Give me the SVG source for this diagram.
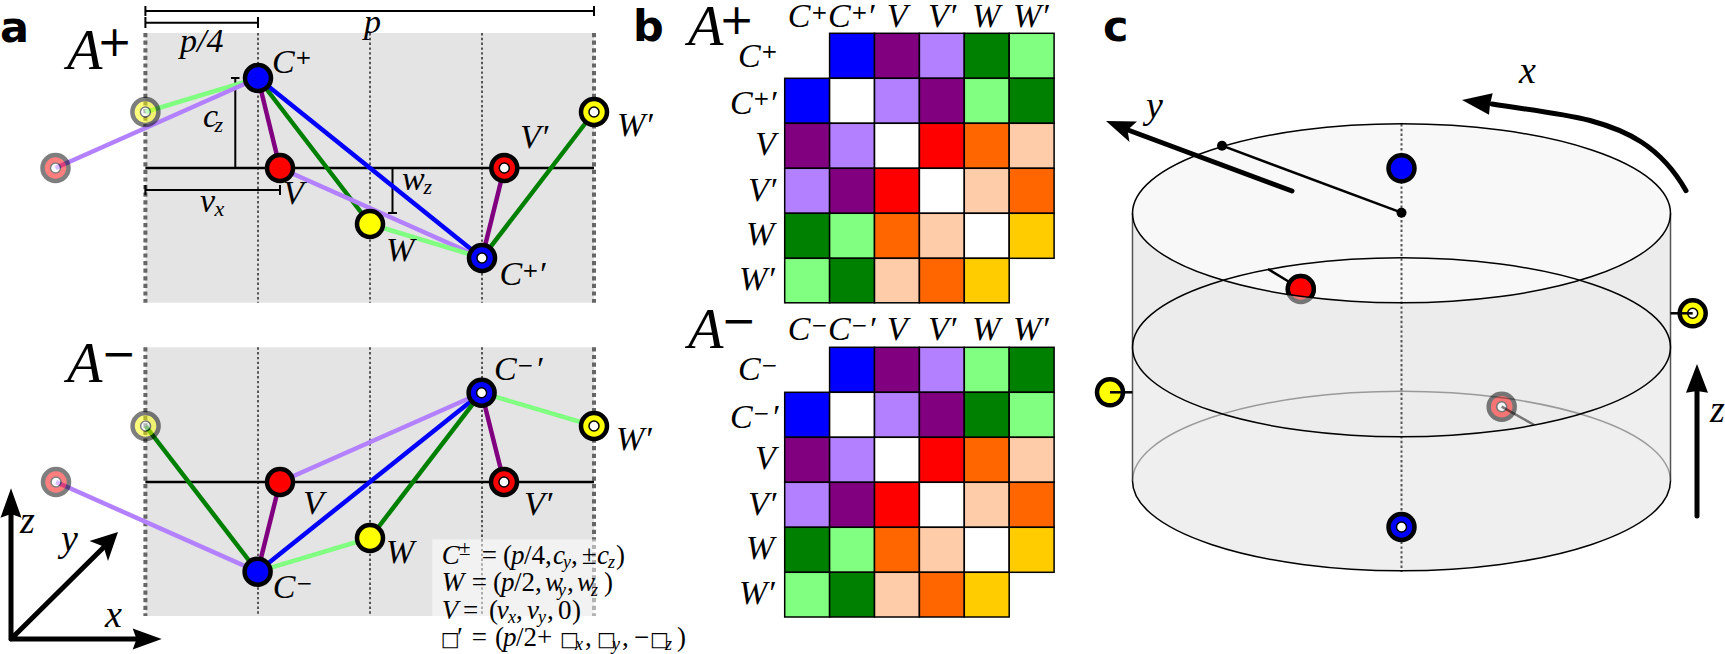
<svg xmlns="http://www.w3.org/2000/svg" width="1725" height="654" viewBox="0 0 1725 654">
<style>
text{font-family:"Liberation Serif","DejaVu Serif",serif;fill:#000}
.m{font-style:italic;font-size:34px}
.s{font-family:"DejaVu Sans",sans-serif;font-style:normal;font-size:20px}
.b{font-style:italic;font-size:22px}
.big{font-style:italic;font-size:58px}
.bs{font-family:"DejaVu Sans",sans-serif;font-style:normal;font-size:42px}
.ax{font-style:italic;font-size:38px}
.l{font-size:27px}
.li{font-style:italic}
.lsub{font-style:italic;font-size:18px}
.lsup{font-size:21px}
.sq{font-family:"DejaVu Sans",sans-serif;font-size:20px}
.lbl{font-family:"DejaVu Sans",sans-serif;font-weight:bold;font-size:43px}
.panel{fill:#e4e4e4}
.edge{stroke:#666;stroke-width:4;stroke-dasharray:4.2 3.4;fill:none}
.div{stroke:#555;stroke-width:2;stroke-dasharray:2.4 2.4;fill:none}
.axis{stroke:#000;stroke-width:2.5;fill:none}
.bar{stroke:#000;stroke-width:2;fill:none}
.arrow{stroke:#000;stroke-width:5;fill:none;stroke-linecap:round}
.k{stroke-width:4.5;fill:none}
.bl{stroke:#00f}.pu{stroke:#800080}.la{stroke:#b380ff}.dg{stroke:#008000}.lg{stroke:#80ff80}
circle.n{stroke:#000;stroke-width:4.5}
circle.h{fill:#fff;stroke:#000;stroke-width:1.5}
.ghost{opacity:.5}
.fb{fill:#00f}.fr{fill:#f00}.fy{fill:#ff0}
.cP{fill:#800080}.cL{fill:#b380ff}.cD{fill:#008000}.cG{fill:#80ff80}.cB{fill:#00f}.cR{fill:#f00}.cO{fill:#f60}.cE{fill:#fca}.cY{fill:#fc0}.cW{fill:#fff}
.grid rect{stroke:#000;stroke-width:1.5}
.cyl{stroke:#000;stroke-width:1.5;fill:none}
.wall{stroke:#555;stroke-width:1.5;fill:none}
.stub{stroke:#000;stroke-width:2.5;fill:none}
</style>
<defs>
<clipPath id="topface"><ellipse cx="1401.5" cy="213.3" rx="269" ry="89.5"/></clipPath>
</defs>

<text class="lbl" x="0" y="42">a</text>
<text class="lbl" x="633" y="41">b</text>
<text class="lbl" x="1103" y="41">c</text>

<g id="panel-a-plus">
<rect class="panel" x="145.4" y="33" width="448.6" height="269.7"/>
<path class="div" d="M258 33V302.7M370 33V302.7M482 33V302.7"/>
<path class="edge" d="M145.4 33V302.7M594 33V302.7"/>
<path class="axis" d="M145.4 168H594"/>
</g>
<g id="panel-a-minus">
<rect class="panel" x="145.4" y="347.3" width="448.6" height="268.7"/>
<path class="div" d="M258 347.3V616M370 347.3V616M482 347.3V616"/>
<path class="edge" d="M145.4 347.3V616M594 347.3V616"/>
<path class="axis" d="M145.4 482H594"/>
</g>

<g id="dimensions">
<path class="bar" d="M145.4 11H594M145.4 6V16M594 6V16"/>
<path class="bar" d="M145.4 22.7H258M145.4 17V28M258 17V28"/>
<path class="bar" d="M235.3 78V168M231 78H239.5"/>
<path class="bar" d="M392.5 168V213M388 213H397"/>
<path class="bar" d="M145.4 190H280M145.4 185V195M280 185V195"/>
<text class="m" x="364" y="33">p</text>
<text class="m" x="180" y="52">p/4</text>
<text class="m" x="203" y="127">c<tspan class="b" x="214.6" y="132">z</tspan></text>
<text class="m" x="402" y="190">w<tspan class="b" x="423.6" y="194">z</tspan></text>
<text class="m" x="200" y="212">v<tspan class="b" x="214.6" y="216">x</tspan></text>
</g>

<text class="big" x="67" y="69">A<tspan class="bs" x="97" y="56">+</tspan></text>
<text class="big" x="67" y="382">A<tspan class="bs" x="101" y="368">−</tspan></text>

<g id="connectors-a-plus">
<path class="k lg" d="M145.4 112L258 78"/>
<path class="k la" d="M55.5 168L258 78"/>
<path class="k pu" d="M258 78L280 168"/>
<path class="k dg" d="M258 78L370 224"/>
<path class="k bl" d="M258 78L482 258"/>
<path class="k la" d="M280 168L482 258"/>
<path class="k lg" d="M370 224L482 258"/>
<path class="k pu" d="M482 258L504.3 168"/>
<path class="k dg" d="M482 258L594 112"/>
</g>
<g id="connectors-a-minus">
<path class="k la" d="M56 482L257.6 571.7"/>
<path class="k dg" d="M145.6 426L257.6 571.7"/>
<path class="k pu" d="M257.6 571.7L280 482"/>
<path class="k bl" d="M257.6 571.7L481.6 392.7"/>
<path class="k lg" d="M257.6 571.7L370 538"/>
<path class="k dg" d="M370 538L481.6 392.7"/>
<path class="k la" d="M280 482L481.6 392.7"/>
<path class="k lg" d="M481.6 392.7L594 426"/>
<path class="k pu" d="M481.6 392.7L504 482"/>
</g>

<g id="ap-ghost-W" class="ghost"><circle class="n fy" cx="145.4" cy="112" r="13"/><circle class="h" cx="145.4" cy="112" r="5"/></g>
<g id="ap-ghost-V" class="ghost"><circle class="n fr" cx="55.5" cy="168" r="13"/><circle class="h" cx="55.5" cy="168" r="5"/></g>
<g id="ap-C"><circle class="n fb" cx="258" cy="78" r="13"/><text class="m" x="272" y="73">C<tspan class="s" x="295" y="64">+</tspan></text></g>
<g id="ap-V"><circle class="n fr" cx="280" cy="168" r="13"/><text class="m" x="283" y="204">V</text></g>
<g id="ap-Vp"><circle class="n fr" cx="504.3" cy="168" r="13"/><circle class="h" cx="504.3" cy="168" r="5"/><text class="m" x="520" y="148">V′</text></g>
<g id="ap-W"><circle class="n fy" cx="370" cy="224" r="13"/><text class="m" x="386" y="261">W</text></g>
<g id="ap-Cp"><circle class="n fb" cx="482" cy="258" r="13"/><circle class="h" cx="482" cy="258" r="5"/><text class="m" x="499.5" y="285">C<tspan class="s" x="522" y="277">+</tspan><tspan x="538" y="285">′</tspan></text></g>
<g id="ap-Wp"><circle class="n fy" cx="594" cy="112" r="13"/><circle class="h" cx="594" cy="112" r="5"/><text class="m" x="617" y="136">W′</text></g>

<g id="am-ghost-W" class="ghost"><circle class="n fy" cx="145.6" cy="426" r="13"/><circle class="h" cx="145.6" cy="426" r="5"/></g>
<g id="am-ghost-V" class="ghost"><circle class="n fr" cx="56" cy="482" r="13"/><circle class="h" cx="56" cy="482" r="5"/></g>
<g id="am-C"><circle class="n fb" cx="257.6" cy="571.7" r="13"/><text class="m" x="272.7" y="598">C<tspan class="s" x="296" y="590">−</tspan></text></g>
<g id="am-V"><circle class="n fr" cx="280" cy="482" r="13"/><text class="m" x="303" y="514">V</text></g>
<g id="am-Vp"><circle class="n fr" cx="504" cy="482" r="13"/><circle class="h" cx="504" cy="482" r="5"/><text class="m" x="524" y="515">V′</text></g>
<g id="am-W"><circle class="n fy" cx="370" cy="538" r="13"/><text class="m" x="386" y="563">W</text></g>
<g id="am-Cp"><circle class="n fb" cx="481.6" cy="392.7" r="13"/><circle class="h" cx="481.6" cy="392.7" r="5"/><text class="m" x="494" y="380">C<tspan class="s" x="517" y="372">−</tspan><tspan x="535" y="380">′</tspan></text></g>
<g id="am-Wp"><circle class="n fy" cx="594" cy="426" r="13"/><circle class="h" cx="594" cy="426" r="5"/><text class="m" x="616" y="450">W′</text></g>

<g id="axes-a">
<path class="arrow" d="M11 639V510M11 639L105 546M11 639H140"/>
<polygon points="11,488.3 21.5,517.7 11,514 0.5,517.7"/>
<polygon points="118,532 108,561 103.500,546.500 89.500,541"/>
<polygon points="161.700,639 132.700,628.500 136.500,639 132.700,649.500"/>
<text class="ax" x="20" y="533">z</text>
<text class="ax" x="61" y="551">y</text>
<text class="ax" x="105" y="627">x</text>
</g>

<g id="legend">
<rect x="432.300" y="539.300" width="163.700" height="77.700" fill="#fff" fill-opacity=".5"/>
<text class="l"><tspan class="li" x="441.700" y="563.500">C</tspan><tspan class="lsup" x="459" y="555">±</tspan><tspan x="481.700" y="563.500">=</tspan><tspan x="503">(</tspan><tspan class="li" x="511">p</tspan><tspan x="524">/4,</tspan><tspan class="li" x="553">c</tspan><tspan class="lsub" x="563" y="568">y</tspan><tspan x="571" y="563.500">,</tspan><tspan x="581.700">±</tspan><tspan class="li" x="597">c</tspan><tspan class="lsub" x="608" y="568">z</tspan><tspan x="616" y="563.500">)</tspan></text>
<text class="l"><tspan class="li" x="441.700" y="591">W</tspan><tspan x="471.700">=</tspan><tspan x="493">(</tspan><tspan class="li" x="501">p</tspan><tspan x="514">/2,</tspan><tspan class="li" x="545">w</tspan><tspan class="lsub" x="558" y="595.500">y</tspan><tspan x="567" y="591">,</tspan><tspan class="li" x="577">w</tspan><tspan class="lsub" x="591" y="595.500">z</tspan><tspan x="604" y="591">)</tspan></text>
<text class="l"><tspan class="li" x="441.700" y="618.500">V</tspan><tspan x="463">=</tspan><tspan x="489">(</tspan><tspan class="li" x="496.700">v</tspan><tspan class="lsub" x="508" y="623">x</tspan><tspan x="516" y="618.500">,</tspan><tspan class="li" x="527">v</tspan><tspan class="lsub" x="538" y="623">y</tspan><tspan x="547" y="618.500">,</tspan><tspan x="558">0</tspan><tspan x="572">)</tspan></text>
<text class="l"><tspan class="sq" x="440.700" y="645.500">□</tspan><tspan x="457">′</tspan><tspan x="471.700">=</tspan><tspan x="495">(</tspan><tspan class="li" x="503">p</tspan><tspan x="516">/2</tspan><tspan x="537">+</tspan><tspan class="sq" x="560">□</tspan><tspan class="lsub" x="575" y="650">x</tspan><tspan x="585" y="645.500">,</tspan><tspan class="sq" x="597">□</tspan><tspan class="lsub" x="612" y="650">y</tspan><tspan x="622" y="645.500">,</tspan><tspan x="634">−</tspan><tspan class="sq" x="650">□</tspan><tspan class="lsub" x="665" y="650">z</tspan><tspan x="677" y="645.500">)</tspan></text>
</g>

<g id="matrix-plus" class="grid">
<rect class="cB" x="829.600" y="33.300" width="44.900" height="45"/><rect class="cP" x="874.500" y="33.300" width="44.900" height="45"/><rect class="cL" x="919.400" y="33.300" width="44.900" height="45"/><rect class="cD" x="964.300" y="33.300" width="44.900" height="45"/><rect class="cG" x="1009.200" y="33.300" width="44.900" height="45"/>
<rect class="cB" x="784.700" y="78.300" width="44.900" height="45"/><rect class="cW" x="829.600" y="78.300" width="44.900" height="45"/><rect class="cL" x="874.500" y="78.300" width="44.900" height="45"/><rect class="cP" x="919.400" y="78.300" width="44.900" height="45"/><rect class="cG" x="964.300" y="78.300" width="44.900" height="45"/><rect class="cD" x="1009.200" y="78.300" width="44.900" height="45"/>
<rect class="cP" x="784.700" y="123.300" width="44.900" height="45"/><rect class="cL" x="829.600" y="123.300" width="44.900" height="45"/><rect class="cW" x="874.500" y="123.300" width="44.900" height="45"/><rect class="cR" x="919.400" y="123.300" width="44.900" height="45"/><rect class="cO" x="964.300" y="123.300" width="44.900" height="45"/><rect class="cE" x="1009.200" y="123.300" width="44.900" height="45"/>
<rect class="cL" x="784.700" y="168.300" width="44.900" height="45"/><rect class="cP" x="829.600" y="168.300" width="44.900" height="45"/><rect class="cR" x="874.500" y="168.300" width="44.900" height="45"/><rect class="cW" x="919.400" y="168.300" width="44.900" height="45"/><rect class="cE" x="964.300" y="168.300" width="44.900" height="45"/><rect class="cO" x="1009.200" y="168.300" width="44.900" height="45"/>
<rect class="cD" x="784.700" y="213.300" width="44.900" height="45"/><rect class="cG" x="829.600" y="213.300" width="44.900" height="45"/><rect class="cO" x="874.500" y="213.300" width="44.900" height="45"/><rect class="cE" x="919.400" y="213.300" width="44.900" height="45"/><rect class="cW" x="964.300" y="213.300" width="44.900" height="45"/><rect class="cY" x="1009.200" y="213.300" width="44.900" height="45"/>
<rect class="cG" x="784.700" y="258.300" width="44.900" height="44.500"/><rect class="cD" x="829.600" y="258.300" width="44.900" height="44.500"/><rect class="cE" x="874.500" y="258.300" width="44.900" height="44.500"/><rect class="cO" x="919.400" y="258.300" width="44.900" height="44.500"/><rect class="cY" x="964.300" y="258.300" width="44.900" height="44.500"/>
</g>
<g id="matrix-minus" class="grid">
<rect class="cB" x="829.600" y="347.300" width="44.900" height="45"/><rect class="cP" x="874.500" y="347.300" width="44.900" height="45"/><rect class="cL" x="919.400" y="347.300" width="44.900" height="45"/><rect class="cG" x="964.300" y="347.300" width="44.900" height="45"/><rect class="cD" x="1009.200" y="347.300" width="44.900" height="45"/>
<rect class="cB" x="784.700" y="392.300" width="44.900" height="45"/><rect class="cW" x="829.600" y="392.300" width="44.900" height="45"/><rect class="cL" x="874.500" y="392.300" width="44.900" height="45"/><rect class="cP" x="919.400" y="392.300" width="44.900" height="45"/><rect class="cD" x="964.300" y="392.300" width="44.900" height="45"/><rect class="cG" x="1009.200" y="392.300" width="44.900" height="45"/>
<rect class="cP" x="784.700" y="437.300" width="44.900" height="45"/><rect class="cL" x="829.600" y="437.300" width="44.900" height="45"/><rect class="cW" x="874.500" y="437.300" width="44.900" height="45"/><rect class="cR" x="919.400" y="437.300" width="44.900" height="45"/><rect class="cO" x="964.300" y="437.300" width="44.900" height="45"/><rect class="cE" x="1009.200" y="437.300" width="44.900" height="45"/>
<rect class="cL" x="784.700" y="482.300" width="44.900" height="45"/><rect class="cP" x="829.600" y="482.300" width="44.900" height="45"/><rect class="cR" x="874.500" y="482.300" width="44.900" height="45"/><rect class="cW" x="919.400" y="482.300" width="44.900" height="45"/><rect class="cE" x="964.300" y="482.300" width="44.900" height="45"/><rect class="cO" x="1009.200" y="482.300" width="44.900" height="45"/>
<rect class="cD" x="784.700" y="527.300" width="44.900" height="45"/><rect class="cG" x="829.600" y="527.300" width="44.900" height="45"/><rect class="cO" x="874.500" y="527.300" width="44.900" height="45"/><rect class="cE" x="919.400" y="527.300" width="44.900" height="45"/><rect class="cW" x="964.300" y="527.300" width="44.900" height="45"/><rect class="cY" x="1009.200" y="527.300" width="44.900" height="45"/>
<rect class="cG" x="784.700" y="572.300" width="44.900" height="44.700"/><rect class="cD" x="829.600" y="572.300" width="44.900" height="44.700"/><rect class="cE" x="874.500" y="572.300" width="44.900" height="44.700"/><rect class="cO" x="919.400" y="572.300" width="44.900" height="44.700"/><rect class="cY" x="964.300" y="572.300" width="44.900" height="44.700"/>
</g>

<g id="matrix-labels-plus">
<text class="big" x="688" y="45">A<tspan class="bs" x="719" y="34">+</tspan></text>
<text class="m" x="787.700" y="27">C<tspan class="s" x="811" y="18.500">+</tspan></text>
<text class="m" x="828" y="27">C<tspan class="s" x="851" y="18.500">+</tspan><tspan x="867" y="27">′</tspan></text>
<text class="m" x="886.700" y="27">V</text>
<text class="m" x="928" y="27">V′</text>
<text class="m" x="972" y="27">W</text>
<text class="m" x="1013" y="27">W′</text>
<text class="m" x="738" y="67">C<tspan class="s" x="761" y="58">+</tspan></text>
<text class="m" x="730" y="114">C<tspan class="s" x="753" y="105">+</tspan><tspan x="769" y="114">′</tspan></text>
<text class="m" x="755" y="155">V</text>
<text class="m" x="748" y="201">V′</text>
<text class="m" x="746" y="245">W</text>
<text class="m" x="739" y="290">W′</text>
</g>
<g id="matrix-labels-minus">
<text class="big" x="688" y="348">A<tspan class="bs" x="721" y="335">−</tspan></text>
<text class="m" x="787.700" y="340">C<tspan class="s" x="811" y="332">−</tspan></text>
<text class="m" x="828" y="340">C<tspan class="s" x="851" y="332">−</tspan><tspan x="868" y="340">′</tspan></text>
<text class="m" x="886.700" y="340">V</text>
<text class="m" x="928" y="340">V′</text>
<text class="m" x="972" y="340">W</text>
<text class="m" x="1013" y="340">W′</text>
<text class="m" x="738" y="380">C<tspan class="s" x="761" y="372">−</tspan></text>
<text class="m" x="730" y="428">C<tspan class="s" x="753" y="420">−</tspan><tspan x="771" y="428">′</tspan></text>
<text class="m" x="755" y="469">V</text>
<text class="m" x="748" y="515">V′</text>
<text class="m" x="746" y="559">W</text>
<text class="m" x="739" y="604">W′</text>
</g>

<g id="cylinder">
<path fill="#efefef" d="M1132.500 213.300V481A269 89.700 0 0 0 1670.500 481V213.300Z"/>
<path fill="#ececec" d="M1132.500 213.300V347.300A269 89.500 0 0 0 1670.500 347.300V213.300Z"/>
<ellipse fill="#f8f8f8" cx="1401.500" cy="213.300" rx="269" ry="89.500"/>
<path class="div" d="M1401.500 124V572"/>
<path class="wall" d="M1132.500 213.300V481M1670.500 213.300V481"/>
</g>

<g id="c-dot-axis"><circle cx="1222" cy="145.700" r="5"/></g>
<g id="c-dot-center"><circle cx="1401.500" cy="212.700" r="5"/></g>
<g id="c-blue"><circle class="n fb" cx="1401.500" cy="168.300" r="13"/></g>
<g id="c-red">
<g class="ghost"><circle class="n fr" cx="1300.800" cy="289" r="13"/></g>
<g clip-path="url(#topface)"><circle class="n fr" cx="1300.800" cy="289" r="13"/></g>
</g>
<g id="c-ghost-red" class="ghost"><circle class="n fr" cx="1501.700" cy="406.700" r="13"/><circle class="h" cx="1501.700" cy="406.700" r="5"/></g>
<g id="c-blue-hole"><circle class="n fb" cx="1401.500" cy="527" r="13"/><circle class="h" cx="1401.500" cy="527" r="5"/></g>
<g id="c-yellow"><circle class="n fy" cx="1110" cy="392.300" r="13"/></g>
<g id="c-yellow-hole"><circle class="n fy" cx="1692.700" cy="313.300" r="13"/><circle class="h" cx="1692.700" cy="313.300" r="5"/></g>

<g id="c-connectors">
<path class="stub" d="M1222 145.700L1401.500 212.700"/>
<path class="stub" d="M1268 269L1288.500 281.500"/>
<path class="stub" d="M1110 392.300H1132.500"/>
<path class="stub" d="M1692.700 313.300H1670.500"/>
<path class="stub ghost" d="M1501.700 406.700L1534.300 425"/>
</g>

<g id="cylinder-outlines">
<ellipse class="cyl" cx="1401.500" cy="213.300" rx="269" ry="89.500"/>
<ellipse class="cyl" cx="1401.500" cy="347.300" rx="269" ry="89.500"/>
<path class="cyl" stroke-opacity=".35" d="M1132.500 481A269 89.700 0 0 1 1670.500 481"/>
<path class="cyl" d="M1132.500 481A269 89.700 0 0 0 1670.500 481"/>
</g>

<g id="axes-c">
<path class="arrow" d="M1292 191L1128 130"/>
<polygon points="1106,121 1137,121.500 1127.500,130 1129.500,142"/>
<path class="arrow" d="M1686 190.700C1660 145 1625 130 1590 120.500C1560 113 1530 110 1492 104"/>
<polygon points="1462,100 1492.700,93.300 1490,104.500 1489,114.700"/>
<path class="arrow" d="M1697 516V388"/>
<polygon points="1697,364 1708,392.700 1697,391 1686,392.700"/>
<text class="ax" x="1519" y="83">x</text>
<text class="ax" x="1146" y="118">y</text>
<text class="ax" x="1710" y="422">z</text>
</g>
</svg>
